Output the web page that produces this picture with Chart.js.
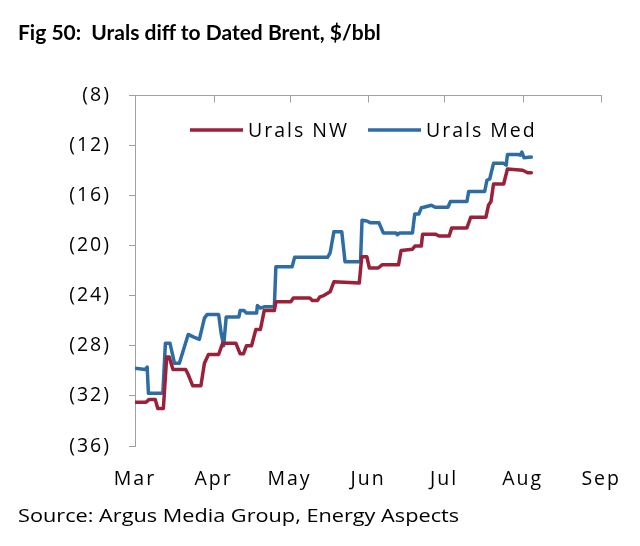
<!DOCTYPE html>
<html>
<head>
<meta charset="utf-8">
<title>Urals diff to Dated Brent</title>
<script src="https://cdn.jsdelivr.net/npm/chart.js@4.4.0/dist/chart.umd.min.js"></script>
<style>
  body { margin: 0; background: #fff; }
  #wrap { position: relative; width: 640px; height: 546px; overflow: hidden; }
  #chart { position: absolute; left: 0; top: 0; }
  #title {
    position: absolute; left: 18px; top: 19px;
    font: bold 21px/25px Lato, sans-serif; color: #000; white-space: nowrap;
  }
  #source {
    position: absolute; left: 18px; top: 507px;
    font: 17.5px/17.5px "Open Sans", sans-serif; color: #000; white-space: nowrap;
    transform: scaleX(1.24); transform-origin: left top;
  }
</style>
</head>
<body>
<div id="wrap">
  <canvas id="chart" width="640" height="546"></canvas>
  <div id="title">Fig 50:&nbsp; Urals diff to Dated Brent, $/bbl</div>
  <div id="source">Source: Argus Media Group, Energy Aspects</div>
</div>
<script>
// x axis: days counted from 1 March
const monthLabels = ['Mar', 'Apr', 'May', 'Jun', 'Jul', 'Aug', 'Sep'];
const monthStarts = [0, 31, 61, 92, 122, 153, 184];
const yTickValues = [-36, -32, -28, -24, -20, -16, -12, -8];

// Urals NW
const nwDays = [0, 4.4, 5.5, 8, 9, 11.2, 12.5, 13.5, 15, 20, 21, 22.8, 26, 27.4, 29, 33, 34.6, 39.8, 41.5, 42.8,
  44, 46, 47.7, 49.5, 51, 55, 55.6, 61.5, 62.5, 69, 70, 72, 73, 74.5, 77, 78.5, 88.5, 89.5, 91.5, 92.5,
  96, 97.5, 104, 105, 109.5, 110.5, 113, 113.5, 118.5, 120, 124, 125, 131, 132.5, 138.5, 139.5, 140.5, 141.5, 145.5, 147,
  153, 155, 156.4];
const nwValues = [-32.5, -32.5, -32.3, -32.3, -33.0, -33.0, -28.9, -28.9, -29.9, -29.9, -30.3, -31.2, -31.2, -29.4, -28.7, -28.7, -27.8, -27.8, -28.65, -28.65,
  -28.0, -28.0, -26.7, -26.7, -25.2, -25.2, -24.5, -24.5, -24.2, -24.2, -24.4, -24.4, -24.1, -24.0, -23.7, -22.9, -23.0, -20.9, -20.9, -21.8,
  -21.8, -21.55, -21.55, -20.4, -20.3, -20.05, -20.05, -19.1, -19.1, -19.25, -19.25, -18.6, -18.6, -17.75, -17.75, -16.8, -16.5, -15.1, -15.1, -13.9,
  -14.0, -14.2, -14.2];

// Urals Med
const medDays = [0, 4, 4.8, 5.3, 11, 12, 13.8, 15.6, 17.5, 21, 23, 25.4, 27.4, 28.5, 33, 34, 35, 36, 41, 41.5,
  43, 44, 48, 48.3, 49.5, 51, 55, 55.6, 62, 63, 76, 77, 78.5, 81.6, 82.9, 89, 89.6, 91.5, 93, 96.3,
  98, 103, 103.5, 104.5, 109.5, 110.4, 112, 113, 114, 117, 118.5, 123.5, 124.5, 131, 131.7, 138, 138.9, 140, 141.5, 145.5,
  146.5, 147, 151, 152, 152.7, 153.5, 156.4];
const medValues = [-29.8, -29.9, -29.7, -31.8, -31.8, -27.8, -27.8, -29.4, -29.4, -27.1, -27.3, -27.5, -25.8, -25.5, -25.5, -27.0, -28.0, -25.7, -25.7, -25.2,
  -25.2, -25.4, -25.4, -24.8, -25.0, -24.9, -24.9, -21.7, -21.7, -20.95, -20.95, -20.6, -18.9, -18.9, -21.3, -21.3, -18.0, -18.05, -18.2, -18.2,
  -19.0, -19.0, -19.15, -19.0, -19.0, -17.5, -17.5, -17.0, -16.95, -16.8, -16.95, -16.95, -16.5, -16.5, -15.7, -15.7, -14.8, -14.7, -13.45, -13.45,
  -13.6, -12.75, -12.75, -12.8, -12.55, -13.0, -12.95];

const RED = '#9b2039';
const BLUE = '#2e6da4';
const AXIS = '#a0a0a0';
const FONT = '"Open Sans", sans-serif';

function toPoints(days, values) {
  return days.map((d, i) => ({ x: d, y: values[i] }));
}

// wider text like the original, and a top axis line with inward ticks
const textSpacing = {
  id: 'textSpacing',
  beforeDraw(chart) { chart.ctx.letterSpacing = '2px'; },
  afterDraw(chart) { chart.ctx.letterSpacing = '0px'; }
};

const topAxis = {
  id: 'topAxis',
  afterDraw(chart) {
    const ctx = chart.ctx;
    const xs = chart.scales.x;
    const top = chart.chartArea.top + 0.5;
    ctx.save();
    ctx.strokeStyle = AXIS;
    ctx.lineWidth = 1;
    ctx.beginPath();
    ctx.moveTo(xs.getPixelForValue(monthStarts[0]), top);
    ctx.lineTo(xs.getPixelForValue(monthStarts[monthStarts.length - 1]) + 0.5, top);
    monthStarts.forEach(d => {
      const px = Math.round(xs.getPixelForValue(d)) + 0.5;
      ctx.moveTo(px, top);
      ctx.lineTo(px, top + 7);
    });
    ctx.stroke();
    ctx.restore();
  }
};

const insideLegend = {
  id: 'insideLegend',
  afterDraw(chart) {
    const ctx = chart.ctx;
    const spots = [190, 368];
    ctx.save();
    ctx.font = '19.5px ' + FONT;
    ctx.letterSpacing = '2px';
    ctx.textBaseline = 'middle';
    ctx.fillStyle = '#000';
    chart.data.datasets.forEach((ds, i) => {
      const x0 = spots[i];
      ctx.strokeStyle = ds.borderColor;
      ctx.lineWidth = 3.5;
      ctx.beginPath();
      ctx.moveTo(x0, 130);
      ctx.lineTo(x0 + 53, 130);
      ctx.stroke();
      ctx.fillText(ds.label, x0 + 58, 131);
    });
    ctx.restore();
  }
};

new Chart(document.getElementById('chart'), {
  type: 'line',
  data: {
    datasets: [
      { label: 'Urals NW', data: toPoints(nwDays, nwValues), borderColor: RED },
      { label: 'Urals Med', data: toPoints(medDays, medValues), borderColor: BLUE }
    ]
  },
  options: {
    responsive: false,
    animation: false,
    layout: { padding: { top: 95, right: 37, left: 0, bottom: 0 } },
    elements: {
      line: { borderWidth: 3.5, tension: 0, borderJoinStyle: 'round', borderCapStyle: 'round' },
      point: { radius: 0 }
    },
    plugins: {
      legend: { display: false },
      tooltip: { enabled: false }
    },
    scales: {
      x: {
        type: 'linear',
        min: monthStarts[0],
        max: monthStarts[monthStarts.length - 1],
        afterBuildTicks: s => { s.ticks = monthStarts.map(v => ({ value: v })); },
        afterFit: s => { s.height = 100; },
        grid: { display: false, drawTicks: false },
        border: { display: false },
        ticks: {
          padding: 22,
          color: '#000',
          font: { family: FONT, size: 19.5 },
          maxRotation: 0,
          autoSkip: false,
          callback: v => monthLabels[monthStarts.indexOf(v)]
        }
      },
      y: {
        min: -36,
        max: -8,
        afterBuildTicks: s => { s.ticks = yTickValues.map(v => ({ value: v })); },
        afterFit: s => { s.width = 135; },
        grid: { drawOnChartArea: false, drawTicks: true, tickLength: 6, color: AXIS },
        border: { display: true, color: AXIS, width: 1 },
        ticks: {
          padding: 18,
          color: '#000',
          font: { family: FONT, size: 19.5 },
          callback: v => '(' + Math.abs(v) + ')'
        }
      }
    }
  },
  plugins: [textSpacing, topAxis, insideLegend]
});
</script>
</body>
</html>
